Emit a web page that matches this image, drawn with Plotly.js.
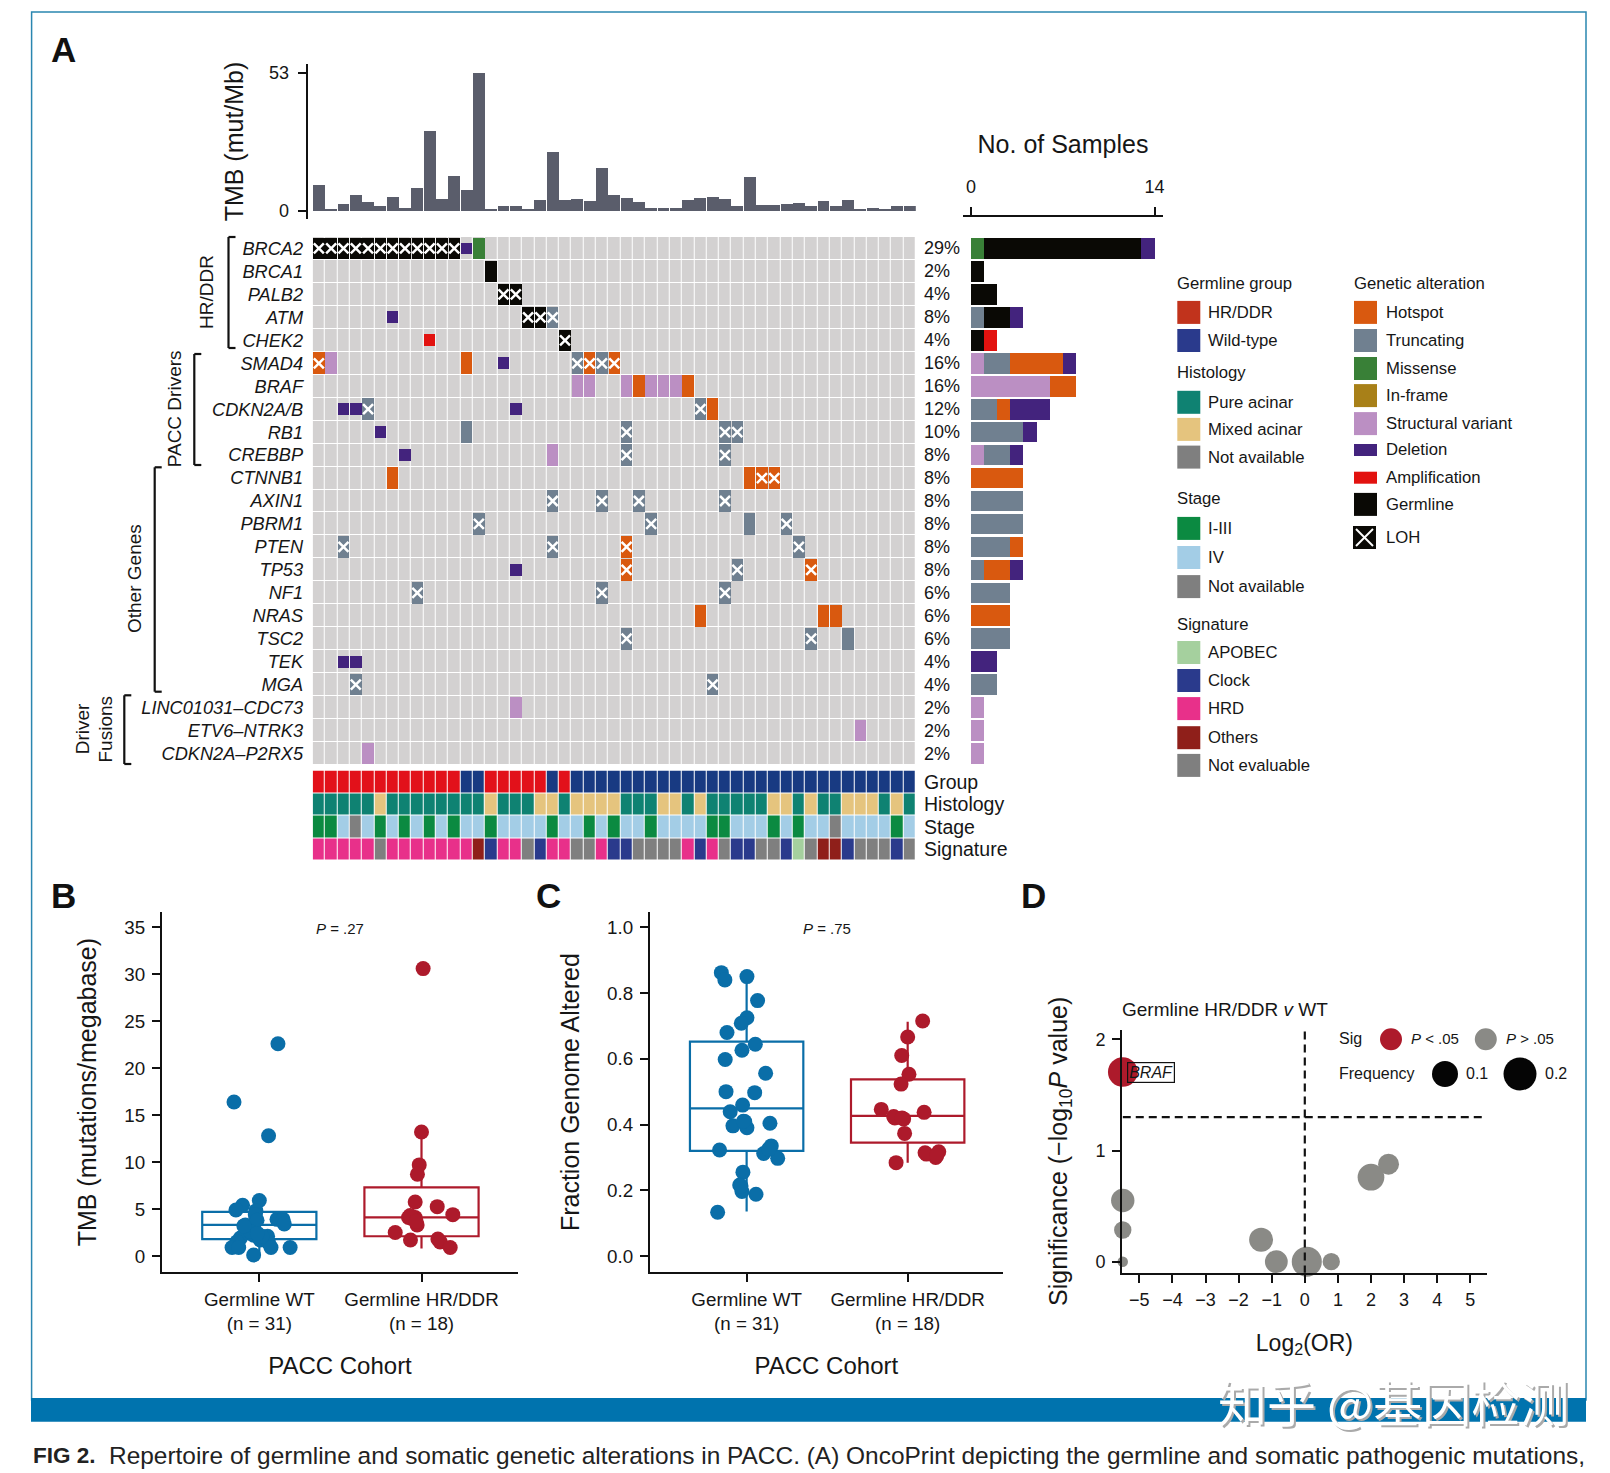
<!DOCTYPE html>
<html><head><meta charset="utf-8"><script src="https://cdn.plot.ly/plotly-3.0.1.min.js"></script>
<style>html,body{margin:0;padding:0;background:#fff}</style></head><body><div id="g" style="width:1610px;height:1473px"></div>
<script>
// ---------- DATA ----------
const genes=["BRCA2","BRCA1","PALB2","ATM","CHEK2","SMAD4","BRAF","CDKN2A/B","RB1","CREBBP","CTNNB1","AXIN1","PBRM1","PTEN","TP53","NF1","NRAS","TSC2","TEK","MGA","LINC01031–CDC73","ETV6–NTRK3","CDKN2A–P2RX5"];
const percents=["29%","2%","4%","8%","4%","16%","16%","12%","10%","8%","8%","8%","8%","8%","8%","6%","6%","6%","4%","4%","2%","2%","2%"];
const tmbBySample=[9.9,0.3,2.6,6,3.3,1.8,5.1,1,8.7,30.6,4.5,13.3,7.9,53,0.3,1.8,1.8,0.3,4.1,22.5,4.1,4.5,3.7,16.5,6.1,5,3.4,1.1,1.1,1.1,4.2,5,5.4,4.6,1.9,13,2.3,2.3,2.7,3.1,1.9,3.8,1.9,4.2,0.3,1.1,0.3,1.9,1.9];
// cells: [gene, sample, LOH flag]
const germlineCells=[["BRCA2",0,1],["BRCA2",1,1],["BRCA2",2,1],["BRCA2",3,1],["BRCA2",4,1],["BRCA2",5,1],["BRCA2",6,1],["BRCA2",7,1],["BRCA2",8,1],["BRCA2",9,1],["BRCA2",10,1],["BRCA2",11,1],["BRCA1",14,0],["PALB2",15,1],["PALB2",16,1],["ATM",17,1],["ATM",18,1],["CHEK2",20,1]];
const missenseCells=[["BRCA2",13,0]];
const hotspotCells=[["SMAD4",0,1],["SMAD4",12,0],["SMAD4",22,1],["SMAD4",24,1],["BRAF",26,0],["BRAF",30,0],["CDKN2A/B",32,0],["CTNNB1",6,0],["CTNNB1",35,0],["CTNNB1",36,1],["CTNNB1",37,1],["PTEN",25,1],["TP53",25,1],["TP53",40,1],["NRAS",31,0],["NRAS",41,0],["NRAS",42,0]];
const truncatingCells=[["ATM",19,1],["SMAD4",21,1],["SMAD4",23,1],["CDKN2A/B",4,1],["CDKN2A/B",31,1],["RB1",12,0],["RB1",25,1],["RB1",33,1],["RB1",34,1],["CREBBP",25,1],["CREBBP",33,1],["AXIN1",19,1],["AXIN1",23,1],["AXIN1",26,1],["AXIN1",33,1],["PBRM1",13,1],["PBRM1",27,1],["PBRM1",35,0],["PBRM1",38,1],["PTEN",2,1],["PTEN",19,1],["PTEN",39,1],["TP53",34,1],["NF1",8,1],["NF1",23,1],["NF1",33,1],["TSC2",25,1],["TSC2",40,1],["TSC2",43,0],["MGA",3,1],["MGA",32,1]];
const structuralCells=[["SMAD4",1,0],["BRAF",21,0],["BRAF",22,0],["BRAF",25,0],["BRAF",27,0],["BRAF",28,0],["BRAF",29,0],["CREBBP",19,0],["LINC01031–CDC73",16,0],["ETV6–NTRK3",44,0],["CDKN2A–P2RX5",4,0]];
const deletionCells=[["BRCA2",12,0],["ATM",6,0],["SMAD4",15,0],["CDKN2A/B",2,0],["CDKN2A/B",3,0],["CDKN2A/B",16,0],["RB1",5,0],["CREBBP",7,0],["TP53",16,0],["TEK",2,0],["TEK",3,0]];
const amplificationCells=[["CHEK2",9,0]];
const groupTrack="HHHHHHHHHHHHWWHHHHHWHWWWWWWWWWWWWWWWWWWWWWWWWWWWW";
const histologyTrack="PPPPPMPPPPPPPPMPPPMMPMMMMPPPMMPMPPPPPMMPMPPMMMPMP";
const stageTrack="GGLNLGLGLGLGLLGLLLLGLLGLGLLGLLLLGGLLLGLGLLNLLLLGL";
const signatureTrack="HHHHHNHHHHHHHOCHHNCHHNNHCCNNNNHCHNCCNNCANOOCNNNCN";
const trackNames=["Group","Histology","Stage","Signature"];
// panel B
const tmbWtJitter=[0.115,-0.156,0.057,0,-0.103,-0.144,-0.021,-0.025,0.109,0.146,0.154,-0.086,-0.035,-0.045,-0.035,0.002,0.051,-0.117,-0.138,0.006,0.057,-0.168,-0.127,0.072,0.19,-0.035,-0.014,-0.055,0.016,-0.095,-0.012];
const tmbWtValues=[22.6,16.4,12.8,5.9,5.4,4.9,4.8,4.4,3.9,3.9,3.4,3.3,3.3,2.8,2.2,1.9,2.1,1.9,1.5,1.7,1.4,0.9,0.9,0.9,0.9,0.1,3.8,2.6,2.1,3.2,2.4];
const tmbHrJitter=[0.01,0,-0.014,-0.025,-0.039,0.097,0.193,-0.08,-0.039,-0.027,-0.162,-0.068,0.101,0.115,0.177,-0.06,-0.07,-0.033];
const tmbHrValues=[30.6,13.2,9.7,8.7,5.75,5.25,4.4,4.1,4.1,3.3,2.5,1.7,1.8,1.5,0.9,4.0,4.3,3.7];
const tmbBoxWt={low:0.1,q1:1.8,med:3.3,q3:4.7,high:5.9};
const tmbBoxHr={low:0.8,q1:2.1,med:4.1,q3:7.3,high:13.2};
// panel C
const fgaWtJitter=[-0.157,-0.135,0.002,0.068,0.002,-0.033,-0.122,0.054,-0.029,-0.133,0.118,-0.128,0.05,-0.025,-0.102,-0.085,-0.012,0.002,0.145,-0.168,0.153,0.106,0.193,-0.023,-0.043,-0.029,0.058,-0.18,-0.02,-0.035,0.137];
const fgaWtValues=[0.862,0.84,0.85,0.777,0.725,0.708,0.68,0.644,0.626,0.598,0.556,0.5,0.497,0.459,0.439,0.396,0.409,0.39,0.404,0.3225,0.335,0.312,0.297,0.255,0.216,0.196,0.188,0.133,0.41,0.213,0.325];
const fgaHrJitter=[0.093,0,-0.037,0.008,-0.041,-0.164,-0.087,-0.025,0.102,-0.019,-0.072,0.108,0.193,0.174,-0.08,0.116,0.18,-0.035];
const fgaHrValues=[0.715,0.666,0.61,0.553,0.523,0.446,0.424,0.417,0.437,0.373,0.284,0.314,0.317,0.3,0.42,0.31,0.305,0.42];
const fgaBoxWt={low:0.135,q1:0.32,med:0.449,q3:0.652,high:0.85};
const fgaBoxHr={low:0.284,q1:0.345,med:0.426,q3:0.5375,high:0.713};
const cohortLabels=["Germline WT<br>(n = 31)","Germline HR/DDR<br>(n = 18)"];
// panel D
const logOr=[-5.5,-5.5,-5.5,-5.5,2.53,2,-1.32,-0.86,0.06,0.8];
const negLogP=[1.706,0.55,0.285,0,0.877,0.76,0.198,0,0,0];
const freqD=[0.16,0.1,0.055,0.02,0.08,0.13,0.105,0.095,0.165,0.055];
const sigD=[1,0,0,0,0,0,0,0,0,0];
// legends
const legGroup=["HR/DDR","Wild-type"],legHist=["Pure acinar","Mixed acinar","Not available"],legStage=["I-III","IV","Not available"],legSig=["APOBEC","Clock","HRD","Others","Not evaluable"];
const legAlt=["Hotspot","Truncating","Missense","In-frame","Structural variant","Deletion","Amplification","Germline"];

// ---------- STYLE / LAYOUT ----------
const W=1610,H=1473,FONT='"Liberation Sans",Arial,sans-serif',INK='#161616';
const C={hot:'#d9590f',trunc:'#708090',mis:'#398037',inf:'#a88018',sv:'#bb8fc3',del:'#43237d',amp:'#e2120f',germ:'#0a0905',na:'#7f7f7f',blue:'#0a6ea8',red:'#ad1a2b'};
const X=a=>a/W, Y=a=>1-a/H;
const dx=(a,b)=>[X(a),X(b)], dy=(t,b)=>[Y(b),Y(t)];
const HX0=312.7,HX1=915.8,HY0=237,HY1=765;
const rowOf=g=>genes.indexOf(g);

const traces=[];
traces.push({type:'bar',x:tmbBySample.map((_,i)=>i),y:tmbBySample,width:0.97,marker:{color:'#5a5d6b',line:{width:0}},xaxis:'x',yaxis:'y'});
traces.push({type:'heatmap',z:genes.map(()=>tmbBySample.map(()=>0)),x:tmbBySample.map((_,i)=>i),y:genes.map((_,i)=>i),xgap:1,ygap:1,showscale:false,zmin:0,zmax:1,colorscale:[[0,'#d3d1d1'],[1,'#d3d1d1']],xaxis:'x',yaxis:'y2',hoverinfo:'skip'});
const cellKinds=[[missenseCells,C.mis,0.94],[structuralCells,C.sv,0.94],[truncatingCells,C.trunc,0.94],[germlineCells,C.germ,0.94],[hotspotCells,C.hot,0.94],[deletionCells,C.del,0.52],[amplificationCells,C.amp,0.52]];
cellKinds.forEach(([cells,color,h])=>{
  traces.push({type:'bar',x:cells.map(c=>c[1]),y:cells.map(()=>h),base:cells.map(c=>rowOf(c[0])-h/2),width:0.93,marker:{color,line:{width:0}},xaxis:'x',yaxis:'y2'});
});
const lohCells=[].concat(germlineCells,hotspotCells,truncatingCells).filter(c=>c[2]);
traces.push({type:'scatter',mode:'markers',x:lohCells.map(c=>c[1]),y:lohCells.map(c=>rowOf(c[0])),marker:{symbol:'x-thin',size:10,color:'#fff',line:{color:'#fff',width:2.5}},xaxis:'x',yaxis:'y2'});
const palette=['#e2111a','#183a82','#0f8272','#e5c47e','#0b8a41','#a3cde6','#7f7f7f','#a5d09e','#2a3a8c','#e8308a','#8f1f1a'];
const tc=[{H:0,W:1},{P:2,M:3,N:6},{G:4,L:5,N:6},{A:7,C:8,H:9,O:10,N:6}];
const trackZ=[groupTrack,histologyTrack,stageTrack,signatureTrack].map((s,i)=>s.split('').slice(0,49).map(ch=>tc[i][ch]));
const N=palette.length;
traces.push({type:'heatmap',z:trackZ,x:tmbBySample.map((_,i)=>i),y:[0,1,2,3],xgap:1,ygap:1,showscale:false,zmin:-0.5,zmax:N-0.5,
  colorscale:palette.flatMap((c,i)=>[[i/N,c],[(i+1)/N,c]]),xaxis:'x',yaxis:'y3',hoverinfo:'skip'});
cellKinds.forEach(([cells,color])=>{
  traces.push({type:'bar',orientation:'h',y:genes.map((_,i)=>i),x:genes.map(g=>cells.filter(c=>c[0]===g).length),width:0.9,marker:{color,line:{width:0}},xaxis:'x2',yaxis:'y4'});
});
function boxPanel(xa,ya,jw,vw,jh,vh,bw,bh){
  [[0,bw,C.blue],[1,bh,C.red]].forEach(([x,b,col])=>{
    traces.push({type:'box',x:[x],q1:[b.q1],median:[b.med],q3:[b.q3],lowerfence:[b.low],upperfence:[b.high],width:0.704,whiskerwidth:0,boxpoints:false,
      fillcolor:'rgba(0,0,0,0)',line:{color:col,width:2.2},xaxis:xa,yaxis:ya});
  });
  traces.push({type:'scatter',mode:'markers',x:jw,y:vw,marker:{color:C.blue,size:15,line:{width:0}},xaxis:xa,yaxis:ya,cliponaxis:false});
  traces.push({type:'scatter',mode:'markers',x:jh.map(v=>1+v),y:vh,marker:{color:C.red,size:15,line:{width:0}},xaxis:xa,yaxis:ya,cliponaxis:false});
}
boxPanel('x3','y5',tmbWtJitter,tmbWtValues,tmbHrJitter,tmbHrValues,tmbBoxWt,tmbBoxHr);
boxPanel('x4','y6',fgaWtJitter,fgaWtValues,fgaHrJitter,fgaHrValues,fgaBoxWt,fgaBoxHr);
traces.push({type:'scatter',mode:'markers',x:logOr,y:negLogP,cliponaxis:false,
  marker:{size:freqD.map(f=>74*Math.sqrt(f)),sizemode:'diameter',opacity:1,color:sigD.map(s=>s?C.red:'#8a8a86'),line:{width:0}},xaxis:'x5',yaxis:'y7'});

const hidden={visible:false,showgrid:false,zeroline:false,fixedrange:true};
const axisLine={showline:true,linecolor:'#111',linewidth:2.2,ticks:'outside',ticklen:8,tickwidth:1.5,tickcolor:'#111',showgrid:false,zeroline:false};
const rowIdx=genes.map((_,i)=>i);
const layout={
  width:W,height:H,margin:{l:0,r:0,t:0,b:0},paper_bgcolor:'#fff',plot_bgcolor:'rgba(0,0,0,0)',showlegend:false,barmode:'stack',
  font:{family:FONT,size:17,color:INK},hovermode:false,
  xaxis:Object.assign({},hidden,{domain:dx(HX0,HX1),range:[-0.5,48.5],anchor:'y'}),
  yaxis:Object.assign({},axisLine,{domain:dy(64,219),range:[-3.2,56.3],anchor:'free',position:X(306.8),tickvals:[0,53],tickfont:{size:18},ticklabelstandoff:5,
    title:{text:'TMB (mut/Mb)',font:{size:25},standoff:17}}),
  yaxis2:{domain:dy(HY0,HY1),range:[22.5,-0.5],anchor:'x',tickvals:rowIdx,ticktext:genes.map(g=>'<i>'+g+'</i>'),tickfont:{size:18.2},ticks:'outside',ticklen:5,tickcolor:'rgba(0,0,0,0)',showgrid:false,zeroline:false,showline:false},
  yaxis3:Object.assign({},hidden,{domain:dy(770.5,860.5),range:[3.5,-0.5],anchor:'x'}),
  xaxis2:Object.assign({},axisLine,{domain:dx(963,1163),range:[-0.61,14.64],anchor:'free',position:Y(215.7),side:'top',tickvals:[0,14],tickfont:{size:18},ticklabelstandoff:6,
    title:{text:'No. of Samples',font:{size:25},standoff:16}}),
  yaxis4:Object.assign({},hidden,{domain:dy(HY0,HY1),range:[22.5,-0.5],anchor:'x2'}),
  xaxis3:Object.assign({},axisLine,{domain:dx(162,518),range:[-0.6,1.595],anchor:'y5',tickvals:[0,1],ticktext:cohortLabels,tickfont:{size:18.8},ticklabelstandoff:1,
    title:{text:'PACC Cohort',font:{size:24},standoff:24}}),
  yaxis5:Object.assign({},axisLine,{domain:dy(912,1272.3),range:[-1.74,36.63],anchor:'x3',tickvals:[0,5,10,15,20,25,30,35],tickfont:{size:18.8},ticklabelstandoff:3,
    title:{text:'TMB (mutations/megabase)',font:{size:25},standoff:20}}),
  xaxis4:Object.assign({},axisLine,{domain:dx(650,1002.7),range:[-0.6,1.59],anchor:'y6',tickvals:[0,1],ticktext:cohortLabels,tickfont:{size:18.8},ticklabelstandoff:1,
    title:{text:'PACC Cohort',font:{size:24},standoff:24}}),
  yaxis6:Object.assign({},axisLine,{domain:dy(912,1272.3),range:[-0.0496,1.0465],anchor:'x4',tickvals:[0,0.2,0.4,0.6,0.8,1],ticktext:['0.0','0.2','0.4','0.6','0.8','1.0'],tickfont:{size:18.8},ticklabelstandoff:3,
    title:{text:'Fraction Genome Altered',font:{size:25},standoff:20}}),
  xaxis5:Object.assign({},axisLine,{domain:dx(1122.3,1486.5),range:[-5.514,5.49],anchor:'y7',tickvals:[-5,-4,-3,-2,-1,0,1,2,3,4,5],tickfont:{size:18},ticklabelstandoff:2,
    title:{text:'Log<sub>2</sub>(OR)',font:{size:23},standoff:25}}),
  yaxis7:Object.assign({},axisLine,{domain:dy(1030,1272.7),range:[-0.099,2.084],anchor:'x5',tickvals:[0,1,2],tickfont:{size:18},ticklabelstandoff:3,
    title:{text:'Significance (−log<sub>10</sub><i>P</i> value)',font:{size:25},standoff:21}}),
  annotations:[],shapes:[]
};
const A=layout.annotations,S=layout.shapes;
function txt(t,x,y,o){A.push(Object.assign({text:t,xref:'paper',yref:'paper',x:X(x),y:Y(y),showarrow:false,xanchor:'left',yanchor:'middle',font:{size:16.7,color:INK,family:FONT},align:'left'},o||{}));}
function rect(x0,y0,x1,y1,fill,layer){S.push({type:'rect',xref:'paper',yref:'paper',x0:X(x0),x1:X(x1),y0:Y(y0),y1:Y(y1),fillcolor:fill,line:{width:0},layer:layer||'above'});}
function line(x0,y0,x1,y1,col,w,dash,layer){S.push({type:'line',xref:'paper',yref:'paper',x0:X(x0),x1:X(x1),y0:Y(y0),y1:Y(y1),line:{color:col,width:w,dash:dash||'solid'},layer:layer||'above'});}
function dot(cx,cy,d,col){S.push({type:'circle',xref:'paper',yref:'paper',x0:X(cx-d/2),x1:X(cx+d/2),y0:Y(cy-d/2),y1:Y(cy+d/2),fillcolor:col,line:{width:0}});}
S.push({type:'rect',xref:'paper',yref:'paper',x0:X(31.6),x1:X(1586),y0:Y(12),y1:Y(1400),line:{color:'#2a86b0',width:1.5},fillcolor:'rgba(0,0,0,0)',layer:'below'});
rect(31,1398,1586,1421.7,'#0073ae','below');
txt('<b>FIG 2.</b>',31,1455,{font:{size:22.5,color:'#222',family:FONT}});
txt('Repertoire of germline and somatic genetic alterations in PACC. (A) OncoPrint depicting the germline and somatic pathogenic mutations,',106.5,1455,{font:{size:24.45,color:'#222',family:FONT}});
const wm='知乎 @基因检测',wmF='"Noto Sans CJK SC"';
txt(wm,1218,1402,{font:{size:49,color:'#aaaaaa',family:wmF}});
txt(wm,1216,1400,{font:{size:49,color:'#ffffff',family:wmF}});
[['A',49,49],['B',49,895],['C',534,895],['D',1019,895]].forEach(([l,x,y])=>txt('<b>'+l+'</b>',x,y,{font:{size:35,color:'#111',family:FONT}}));
[[228.5,237,348,'HR/DDR',207,292],[194.3,354,465,'PACC Drivers',174.3,409],[154.7,467.3,691.7,'Other Genes',134,579],[124.3,695.3,764,null]].forEach(([x,t,b,lab,lx,ly])=>{
  line(x,t,x,b,'#111',2.2);line(x,t,x+7,t,'#111',2.2);line(x,b,x+7,b,'#111',2.2);
  if(lab)txt(lab,lx,ly,{textangle:-90,xanchor:'center',font:{size:19,color:INK,family:FONT}});
});
txt('Driver',82.3,729,{textangle:-90,xanchor:'center',font:{size:19,color:INK,family:FONT}});
txt('Fusions',105,729.5,{textangle:-90,xanchor:'center',font:{size:19,color:INK,family:FONT}});
percents.forEach((p,i)=>A.push({text:p,xref:'paper',yref:'y2',x:X(921.5),y:i,showarrow:false,xanchor:'left',yanchor:'middle',font:{size:18,color:INK,family:FONT}}));
trackNames.forEach((t,i)=>A.push({text:t,xref:'paper',yref:'y3',x:X(922.3),y:i,showarrow:false,xanchor:'left',yanchor:'middle',font:{size:19.5,color:INK,family:FONT}}));
function legendCol(title,labels,colors,sx,tx,ty,ys,hs){
  txt(title,sx-2,ty);
  labels.forEach((l,i)=>{const h=hs?hs[i]:23;rect(sx,ys[i]-h/2,sx+23,ys[i]+h/2,colors[i]);txt(l,tx,ys[i]);});
}
legendCol('Germline group',legGroup,['#c1331c','#2a3a8c'],1177.3,1205.5,283.7,[312.4,340.5]);
legendCol('Histology',legHist,['#0f8272','#e5c47e',C.na],1177.3,1205.5,372.6,[402.3,429.4,457.1]);
legendCol('Stage',legStage,['#0b8a41','#a3cde6',C.na],1177.3,1205.5,499,[528.4,557.5,586.6]);
legendCol('Signature',legSig,['#a5d09e','#2a3a8c','#e8308a','#8f1f1a',C.na],1177.3,1205.5,624,[652.5,680.5,708.6,737.7,765.4]);
legendCol('Genetic alteration',legAlt,[C.hot,C.trunc,C.mis,C.inf,C.sv,C.del,C.amp,C.germ],1354,1383.5,283.7,[312.4,340.5,368.5,395.6,423.6,450,477.7,504.4],[23,23,23,23,23,12,12,23]);
rect(1353,526,1376,549,C.germ);line(1356,529,1373,546,'#fff',2);line(1373,529,1356,546,'#fff',2);
txt('LOH',1383.5,537.6);
txt('<i>P</i> = .27',340,928,{xanchor:'center',font:{size:15,color:INK,family:FONT}});
txt('<i>P</i> = .75',826.7,928,{xanchor:'center',font:{size:15,color:INK,family:FONT}});
txt('Germline HR/DDR <i>v</i> WT',1119.7,1009,{font:{size:19,color:INK,family:FONT}});
S.push({type:'line',xref:'x5',yref:'y7',x0:-5.5,x1:5.4,y0:1.3,y1:1.3,line:{color:'#111',width:2.2,dash:'8px,5px'}});
S.push({type:'line',xref:'x5',yref:'y7',x0:0,x1:0,y0:2.07,y1:-0.13,line:{color:'#111',width:2.2,dash:'8px,5px'}});
A.push({text:'<i>BRAF</i>',xref:'x5',yref:'y7',x:-5.36,y:1.706,xanchor:'left',yanchor:'middle',showarrow:false,bordercolor:'#111',borderwidth:1.2,borderpad:1,font:{size:16,color:INK,family:FONT}});
txt('Sig',1337,1038.3,{font:{size:16,color:INK,family:FONT}});
dot(1391,1039.3,22,C.red);txt('<i>P</i> < .05',1409,1038.3,{font:{size:15,color:INK,family:FONT}});
dot(1485.8,1039.3,22,'#8a8a86');txt('<i>P</i> > .05',1504,1038.3,{font:{size:15,color:INK,family:FONT}});
txt('Frequency',1337,1073,{font:{size:16,color:INK,family:FONT}});
dot(1445,1074,26,'#050505');txt('0.1',1464,1073,{font:{size:16,color:INK,family:FONT}});
dot(1520,1074,33,'#050505');txt('0.2',1542.6,1073,{font:{size:16,color:INK,family:FONT}});

Plotly.newPlot('g',traces,layout,{displayModeBar:false,responsive:false});
</script></body></html>
